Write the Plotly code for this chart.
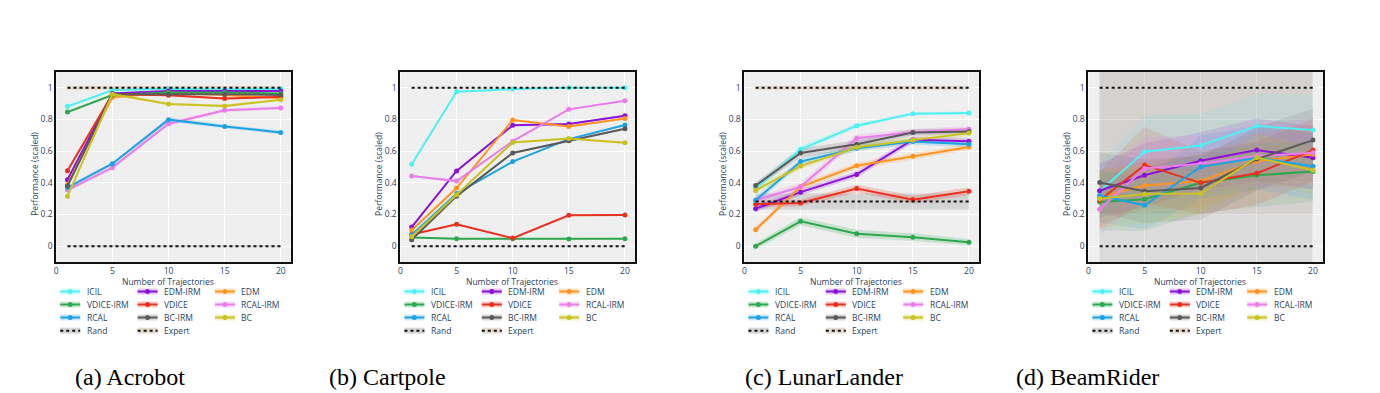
import plotly.graph_objects as go

# ---------------- data ----------------
X = [1, 5, 10, 15, 20]
METHODS = ["ICIL", "EDM-IRM", "EDM", "VDICE-IRM", "VDICE", "RCAL-IRM", "RCAL", "BC-IRM", "BC"]
COLORS = ["#4ff0f2", "#8b12d6", "#ff9422", "#2ea84f", "#e8311f", "#ea7ceb", "#1ea2e4", "#5a5a5a", "#c9c320"]
CAPTIONS = ["(a) Acrobot", "(b) Cartpole", "(c) LunarLander", "(d) BeamRider"]

# mean performance, one row per method (same order as METHODS)
acrobot_mean = [
    [0.883, 0.985, 0.995, 0.990, 0.995],
    [0.420, 0.965, 0.980, 0.980, 0.980],
    [0.390, 0.940, 0.970, 0.955, 0.935],
    [0.847, 0.955, 0.970, 0.970, 0.965],
    [0.477, 0.960, 0.953, 0.932, 0.943],
    [0.354, 0.496, 0.773, 0.858, 0.873],
    [0.370, 0.521, 0.799, 0.756, 0.718],
    [0.380, 0.960, 0.960, 0.960, 0.955],
    [0.316, 0.960, 0.898, 0.886, 0.924],
]
acrobot_std = [
    [0.010, 0.005, 0.005, 0.005, 0.005],
    [0.010, 0.005, 0.005, 0.005, 0.005],
    [0.010, 0.008, 0.006, 0.006, 0.006],
    [0.010, 0.006, 0.005, 0.005, 0.005],
    [0.010, 0.006, 0.006, 0.006, 0.006],
    [0.010, 0.010, 0.012, 0.012, 0.010],
    [0.010, 0.010, 0.015, 0.012, 0.012],
    [0.010, 0.006, 0.006, 0.006, 0.006],
    [0.010, 0.008, 0.008, 0.008, 0.008],
]
cartpole_mean = [
    [0.517, 0.975, 0.992, 1.000, 1.000],
    [0.121, 0.475, 0.763, 0.771, 0.824],
    [0.100, 0.367, 0.797, 0.756, 0.807],
    [0.055, 0.047, 0.047, 0.045, 0.047],
    [0.074, 0.138, 0.051, 0.195, 0.197],
    [0.443, 0.411, 0.663, 0.864, 0.919],
    [0.070, 0.333, 0.534, 0.676, 0.765],
    [0.040, 0.316, 0.589, 0.665, 0.742],
    [0.060, 0.325, 0.655, 0.680, 0.653],
]
cartpole_std = [
    [0.005, 0.004, 0.004, 0.003, 0.003],
    [0.006, 0.006, 0.006, 0.006, 0.006],
    [0.006, 0.006, 0.006, 0.006, 0.006],
    [0.005, 0.005, 0.005, 0.005, 0.005],
    [0.005, 0.005, 0.005, 0.005, 0.005],
    [0.006, 0.006, 0.006, 0.006, 0.006],
    [0.006, 0.006, 0.006, 0.006, 0.006],
    [0.006, 0.006, 0.006, 0.006, 0.006],
    [0.006, 0.006, 0.006, 0.006, 0.006],
]
lunar_mean = [
    [0.364, 0.612, 0.761, 0.837, 0.841],
    [0.237, 0.341, 0.453, 0.672, 0.663],
    [0.104, 0.375, 0.508, 0.568, 0.627],
    [0.000, 0.157, 0.078, 0.057, 0.025],
    [0.265, 0.273, 0.364, 0.294, 0.347],
    [0.290, 0.375, 0.682, 0.720, 0.739],
    [0.290, 0.534, 0.619, 0.661, 0.644],
    [0.383, 0.589, 0.644, 0.718, 0.725],
    [0.352, 0.506, 0.625, 0.670, 0.714],
]
lunar_std = [
    [0.020, 0.020, 0.015, 0.010, 0.010],
    [0.020, 0.020, 0.020, 0.020, 0.020],
    [0.020, 0.020, 0.020, 0.020, 0.020],
    [0.020, 0.025, 0.025, 0.025, 0.020],
    [0.020, 0.020, 0.025, 0.025, 0.025],
    [0.020, 0.025, 0.025, 0.020, 0.020],
    [0.020, 0.020, 0.020, 0.020, 0.020],
    [0.020, 0.030, 0.025, 0.020, 0.020],
    [0.020, 0.020, 0.020, 0.020, 0.020],
]
beam_mean = [
    [0.347, 0.596, 0.636, 0.759, 0.734],
    [0.350, 0.448, 0.539, 0.607, 0.558],
    [0.310, 0.383, 0.412, 0.537, 0.580],
    [0.279, 0.296, 0.400, 0.448, 0.471],
    [0.290, 0.512, 0.400, 0.460, 0.607],
    [0.233, 0.490, 0.520, 0.570, 0.590],
    [0.320, 0.258, 0.501, 0.558, 0.505],
    [0.402, 0.347, 0.368, 0.550, 0.670],
    [0.300, 0.330, 0.332, 0.560, 0.480],
]
beam_std = [
    [0.180, 0.230, 0.200, 0.200, 0.220],
    [0.170, 0.200, 0.180, 0.200, 0.200],
    [0.170, 0.150, 0.170, 0.180, 0.180],
    [0.180, 0.200, 0.190, 0.200, 0.190],
    [0.180, 0.240, 0.200, 0.200, 0.200],
    [0.160, 0.200, 0.180, 0.200, 0.220],
    [0.170, 0.150, 0.200, 0.200, 0.210],
    [0.190, 0.200, 0.200, 0.200, 0.200],
    [0.180, 0.190, 0.130, 0.150, 0.150],
]
rand_mean = [0.0, 0.0, 0.282, 0.0]
rand_std = [0.005, 0.004, 0.05, 1.2]
expert_mean = [1.0, 1.0, 1.0, 1.0]
expert_std = [0.012, 0.004, 0.012, 0.8]

MEANS = [acrobot_mean, cartpole_mean, lunar_mean, beam_mean]
STDS = [acrobot_std, cartpole_std, lunar_std, beam_std]

# ---------------- layout helpers ----------------
# the page body has an 8px margin; the figure is sized so the picture lands like the reference
OFF = 8
W, H = 1380 - OFF, 393 - OFF
PANEL_LEFT = [54.3, 399.0, 743.5, 1088.0]
PANEL_W = 235.0
PLOT_TOP, PLOT_BOT = 72.0, 262.0
CAPTION_X = [128, 386, 823, 1087.5]
CAPTION_Y = 377
TEXT_COLOR = "#2a3f5f"
FONT = "Open Sans"


def px(x):
    return (x - OFF) / W


def py(y):
    return 1 - (y - OFF) / H


def rgba(hex_color, a):
    h = hex_color.lstrip("#")
    r, g, b = int(h[0:2], 16), int(h[2:4], 16), int(h[4:6], 16)
    return f"rgba({r},{g},{b},{a})"


fig = go.Figure()
shapes = []
annotations = []

for p in range(4):
    xa = "x" if p == 0 else f"x{p+1}"
    ya = "y" if p == 0 else f"y{p+1}"
    means, stds = MEANS[p], STDS[p]
    band_alpha = 0.12 if p == 3 else 0.2
    rand_col = "rgba(120,120,120,0.16)" if p == 3 else "rgba(120,120,120,0.22)"
    exp_col = "rgba(170,140,115,0.12)" if p == 3 else "rgba(190,150,110,0.25)"

    # baseline bands
    for mval, sval, bcol in [(rand_mean[p], rand_std[p], rand_col),
                             (expert_mean[p], expert_std[p], exp_col)]:
        xs = [X[0], X[-1], X[-1], X[0]]
        ys = [mval + sval, mval + sval, mval - sval, mval - sval]
        fig.add_trace(go.Scatter(x=xs, y=ys, fill="toself", fillcolor=bcol, mode="none",
                                 xaxis=xa, yaxis=ya, showlegend=False, hoverinfo="skip"))
    # method bands
    for i, name in enumerate(METHODS):
        up = [m + s for m, s in zip(means[i], stds[i])]
        lo = [m - s for m, s in zip(means[i], stds[i])]
        fig.add_trace(go.Scatter(x=X + X[::-1], y=up + lo[::-1], fill="toself",
                                 fillcolor=rgba(COLORS[i], band_alpha), mode="none",
                                 xaxis=xa, yaxis=ya, showlegend=False, hoverinfo="skip"))
    # method lines
    for i, name in enumerate(METHODS):
        fig.add_trace(go.Scatter(x=X, y=means[i], mode="lines+markers", name=name,
                                 line=dict(color=COLORS[i], width=2),
                                 marker=dict(color=COLORS[i], size=5),
                                 xaxis=xa, yaxis=ya, showlegend=False))
    # baselines
    for nm, mval in [("Rand", rand_mean[p]), ("Expert", expert_mean[p])]:
        fig.add_trace(go.Scatter(x=[X[0], X[-1]], y=[mval, mval], mode="lines", name=nm,
                                 line=dict(color="#111111", width=2, dash="dot"),
                                 xaxis=xa, yaxis=ya, showlegend=False))

    L = PANEL_LEFT[p]
    axis_common = dict(showline=True, mirror=True, linecolor="#111111", linewidth=2,
                       showgrid=True, gridcolor="white", gridwidth=1, zeroline=False,
                       ticks="", tickfont=dict(size=8.5, color=TEXT_COLOR, family=FONT))
    fig.update_layout(**{
        ("xaxis" if p == 0 else f"xaxis{p+1}"): dict(
            domain=[px(L), px(L + PANEL_W)], range=[0, 20.9], dtick=5, tick0=0,
            anchor=ya, **axis_common),
        ("yaxis" if p == 0 else f"yaxis{p+1}"): dict(
            domain=[py(PLOT_BOT), py(PLOT_TOP)], range=[-0.1, 1.1], dtick=0.2, tick0=0,
            anchor=xa, **axis_common),
    })

    # axis titles
    annotations.append(dict(text="Number of Trajectories", x=px(L + PANEL_W / 2 - 6), y=py(281),
                            xref="paper", yref="paper", showarrow=False, xanchor="center",
                            yanchor="middle", font=dict(size=8.5, color=TEXT_COLOR, family=FONT)))
    annotations.append(dict(text="Performance (scaled)", x=px(L - 22), y=py(173.5),
                            xref="paper", yref="paper", showarrow=False, textangle=-90,
                            xanchor="center", yanchor="middle",
                            font=dict(size=8.5, color=TEXT_COLOR, family=FONT)))
    # caption
    annotations.append(dict(text=CAPTIONS[p], x=px(CAPTION_X[p]), y=py(CAPTION_Y),
                            xref="paper", yref="paper", showarrow=False, xanchor="center",
                            yanchor="middle", font=dict(size=24, color="black",
                                                        family="Liberation Serif")))

    # manual legend (3 columns)
    col_off = [4.0, 81.5, 159.0]
    rows = [291.5, 304.5, 317.5, 330.7]
    entries = [(n, COLORS[i], "method") for i, n in enumerate(METHODS)]
    entries += [("Rand", "rgba(120,120,120,0.3)", "rand"), ("Expert", "rgba(190,150,110,0.35)", "expert")]
    for k, (name, col, kind) in enumerate(entries):
        r, c = k // 3, k % 3
        x0 = L + col_off[c]
        yc = rows[r]
        x1 = x0 + 20
        if kind == "method":
            shapes.append(dict(type="rect", xref="paper", yref="paper", x0=px(x0), x1=px(x1),
                               y0=py(yc + 3), y1=py(yc - 3), fillcolor=rgba(col, 0.25),
                               line=dict(width=0)))
            shapes.append(dict(type="line", xref="paper", yref="paper", x0=px(x0), x1=px(x1),
                               y0=py(yc), y1=py(yc), line=dict(color=col, width=2)))
            shapes.append(dict(type="circle", xref="paper", yref="paper",
                               x0=px(x0 + 10 - 2.5), x1=px(x0 + 10 + 2.5),
                               y0=py(yc + 2.5), y1=py(yc - 2.5), fillcolor=col,
                               line=dict(width=0)))
        else:
            shapes.append(dict(type="rect", xref="paper", yref="paper", x0=px(x0), x1=px(x1),
                               y0=py(yc + 3), y1=py(yc - 3), fillcolor=col,
                               line=dict(width=0)))
            shapes.append(dict(type="line", xref="paper", yref="paper", x0=px(x0), x1=px(x1),
                               y0=py(yc), y1=py(yc), line=dict(color="#111111", width=2, dash="dot")))
        annotations.append(dict(text=name, x=px(x1 + 4.5), y=py(yc), xref="paper", yref="paper",
                                showarrow=False, xanchor="left", yanchor="middle",
                                font=dict(size=8.5, color=TEXT_COLOR, family=FONT)))

fig.update_layout(
    width=W, height=H, autosize=False,
    margin=dict(l=0, r=0, t=0, b=0),
    paper_bgcolor="white", plot_bgcolor="#efefef",
    showlegend=False,
    font=dict(family=FONT, color=TEXT_COLOR),
    shapes=shapes, annotations=annotations,
)

fig.write_html("out.html")
